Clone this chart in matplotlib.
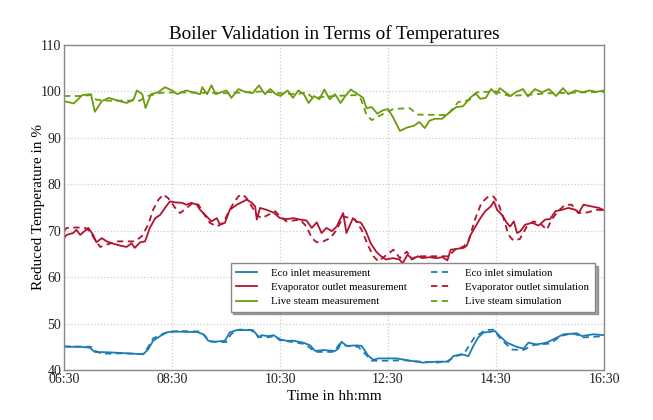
import matplotlib
matplotlib.use("Agg")
import matplotlib.pyplot as plt

plt.rcParams['font.family'] = ['Liberation Serif', 'DejaVu Serif']

# ---- data (time in hours of day) ----
eco_meas_t = [6.5, 6.80, 6.98, 7.07, 7.35, 7.66, 7.97, 8.06, 8.15, 8.28, 8.40, 8.52, 8.77, 8.96, 9.08, 9.17,
              9.30, 9.48, 9.57, 9.70, 9.95, 10.04, 10.10, 10.16, 10.28, 10.38, 10.50, 10.62, 10.75, 10.93,
              11.06, 11.15, 11.30, 11.52, 11.58, 11.64, 11.73, 11.92, 12.01, 12.14, 12.23, 12.32, 12.66,
              12.91, 13.15, 13.40, 13.62, 13.71, 13.86, 13.99, 14.08, 14.17, 14.27, 14.39, 14.48, 14.57,
              14.70, 14.88, 15.01, 15.10, 15.25, 15.44, 15.56, 15.75, 16.00, 16.09, 16.30, 16.5]
eco_meas_v = [45.0, 45.0, 44.8, 43.9, 43.8, 43.6, 43.4, 44.5, 46.3, 47.3, 48.1, 48.3, 48.2, 48.2, 47.7, 46.3,
              46.1, 46.3, 48.1, 48.6, 48.6, 48.1, 47.0, 47.5, 47.3, 47.5, 46.6, 46.3, 46.3, 45.9,
              45.3, 44.1, 44.3, 44.1, 44.6, 46.1, 45.2, 45.3, 45.2, 43.0, 42.2, 42.5, 42.5,
              42.0, 41.6, 41.8, 41.8, 43.0, 43.4, 43.0, 45.2, 47.0, 48.1, 48.2, 48.4, 47.3,
              45.9, 45.0, 44.6, 45.9, 45.5, 45.9, 46.6, 47.7, 47.9, 47.3, 47.7, 47.5]

eco_sim_t = [6.5, 7.0, 7.1, 7.2, 7.6, 7.95, 8.05, 8.15, 8.35, 8.6, 9.0, 9.1, 9.2, 9.5, 9.6, 9.75, 10.0,
             10.1, 10.25, 10.4, 10.5, 10.75, 10.95, 11.05, 11.15, 11.5, 11.6, 11.75, 11.95, 12.05, 12.2,
             12.5, 12.8, 13.0, 13.4, 13.6, 13.75, 13.9, 14.1, 14.3, 14.45, 14.6, 14.8, 15.0, 15.2, 15.5,
             15.7, 15.9, 16.0, 16.1, 16.5]
eco_sim_v = [45.1, 45.0, 44.0, 43.5, 43.6, 43.4, 44.8, 46.8, 47.9, 48.4, 48.3, 47.5, 46.1, 46.0, 47.8, 48.7, 48.6,
             47.2, 47.0, 47.3, 46.4, 46.0, 45.6, 44.8, 43.9, 43.9, 45.6, 45.2, 45.0, 43.8, 42.0,
             42.0, 42.1, 41.9, 41.6, 41.9, 43.0, 43.4, 47.0, 48.6, 48.7, 46.5, 44.4, 44.3, 45.4, 45.7,
             47.3, 47.9, 47.6, 47.0, 47.3]

evap_meas_t = [6.5, 6.55, 6.67, 6.73, 6.80, 6.95, 7.04, 7.10, 7.20, 7.29, 7.41, 7.54, 7.66, 7.75, 7.81, 7.91,
               8.00, 8.09, 8.19, 8.28, 8.37, 8.46, 8.56, 8.68, 8.77, 8.86, 8.96, 9.02, 9.14, 9.23, 9.33,
               9.39, 9.48, 9.57, 9.70, 9.82, 9.88, 9.98, 10.04, 10.07, 10.13, 10.25, 10.38, 10.50, 10.62,
               10.75, 10.87, 10.99, 11.09, 11.18, 11.27, 11.36, 11.46, 11.55, 11.61, 11.67, 11.73, 11.85,
               11.91, 12.00, 12.09, 12.18, 12.28, 12.37, 12.46, 12.59, 12.71, 12.77, 12.86, 12.96, 13.05,
               13.14, 13.27, 13.39, 13.51, 13.60, 13.66, 13.78, 13.90, 13.96, 14.03, 14.12, 14.21, 14.30,
               14.40, 14.46, 14.52, 14.61, 14.70, 14.76, 14.83, 14.89, 14.95, 15.04, 15.17, 15.29, 15.41,
               15.50, 15.60, 15.72, 15.84, 15.97, 16.03, 16.12, 16.28, 16.41, 16.5]
evap_meas_v = [68.4, 69.1, 69.5, 70.2, 69.1, 70.6, 69.1, 67.5, 68.4, 67.7, 67.2, 66.8, 66.5, 67.3, 66.3, 67.5,
               67.7, 70.6, 72.7, 73.4, 74.9, 76.3, 76.1, 76.0, 75.6, 76.0, 75.6, 74.5, 73.1, 72.0, 72.7,
               71.3, 71.7, 74.5, 75.6, 76.3, 76.7, 76.0, 75.2, 72.4, 74.9, 74.5, 73.9, 72.7, 72.5,
               72.7, 72.4, 72.2, 70.6, 71.8, 69.5, 70.6, 69.9, 70.9, 72.4, 73.8, 69.5, 72.7,
               72.0, 71.7, 69.9, 67.3, 65.5, 64.5, 63.8, 64.1, 63.8, 63.0, 64.8, 63.9, 64.5,
               64.1, 64.3, 64.1, 64.3, 63.6, 65.9, 66.1, 66.3, 66.8, 69.1, 70.9, 72.7, 74.2,
               75.2, 76.3, 74.5, 73.4, 71.7, 70.9, 72.0, 69.5, 69.9, 71.3, 71.7, 71.1, 72.4,
               72.5, 74.2, 74.5, 74.9, 74.5, 73.8, 75.6, 75.2, 74.9, 74.4]

evap_sim_t = [6.5, 6.55, 6.73, 6.89, 6.98, 7.07, 7.17, 7.29, 7.48, 7.66, 7.81, 7.94, 8.06, 8.15, 8.25, 8.34,
              8.43, 8.56, 8.65, 8.77, 8.89, 8.99, 9.08, 9.20, 9.33, 9.45, 9.54, 9.64, 9.73, 9.81, 9.88,
              9.98, 10.07, 10.16, 10.28, 10.41, 10.50, 10.62, 10.75, 10.87, 10.99, 11.09, 11.18, 11.30,
              11.43, 11.55, 11.67, 11.89, 12.01, 12.14, 12.23, 12.32, 12.44, 12.60, 12.72, 12.85, 12.94,
              13.03, 13.28, 13.62, 13.74, 13.90, 13.99, 14.11, 14.23, 14.36, 14.45, 14.54, 14.64, 14.73,
              14.82, 14.94, 15.07, 15.19, 15.31, 15.44, 15.53, 15.65, 15.78, 15.90, 16.03, 16.18, 16.36, 16.5]
evap_sim_v = [69.9, 70.6, 70.7, 70.6, 69.9, 68.1, 66.5, 67.0, 67.7, 67.7, 67.7, 68.8, 71.3, 74.5, 76.7, 77.8,
              77.0, 74.9, 73.8, 74.9, 76.0, 75.6, 73.8, 71.7, 70.9, 71.7, 73.8, 76.0, 77.4, 77.8, 77.0,
              75.2, 73.4, 72.7, 73.4, 74.2, 73.1, 72.0, 72.2, 72.4, 70.9, 68.4, 67.5, 67.7,
              68.4, 70.2, 73.1, 72.4, 70.2, 66.6, 64.5, 63.4, 64.5, 65.9, 64.1, 65.5, 63.8,
              64.5, 64.5, 64.5, 65.9, 66.6, 67.7, 72.4, 76.0, 77.4, 77.4, 76.0, 72.7, 69.1,
              67.9, 68.2, 70.9, 72.0, 71.7, 70.2, 72.4, 74.2, 75.6, 75.6, 73.8, 73.9, 74.5, 74.4]

steam_meas_t = [6.5, 6.68, 6.84, 7.0, 7.07, 7.2, 7.33, 7.53, 7.66, 7.79, 7.85, 7.95, 8.01, 8.11, 8.24, 8.37,
                8.5, 8.6, 8.76, 8.89, 9.02, 9.06, 9.15, 9.23, 9.31, 9.41, 9.51, 9.60, 9.73, 9.86, 9.99,
                10.11, 10.22, 10.32, 10.42, 10.51, 10.64, 10.74, 10.84, 10.94, 11.03, 11.13, 11.23, 11.32,
                11.42, 11.52, 11.62, 11.71, 11.81, 11.94, 12.04, 12.10, 12.20, 12.30, 12.40, 12.5, 12.59,
                12.72, 12.85, 12.98, 13.08, 13.18, 13.27, 13.37, 13.5, 13.63, 13.76, 13.89, 14.02, 14.12,
                14.21, 14.31, 14.41, 14.51, 14.57, 14.67, 14.77, 14.86, 15.0, 15.09, 15.22, 15.35, 15.48,
                15.61, 15.74, 15.84, 15.97, 16.1, 16.23, 16.36, 16.5]
steam_meas_v = [97.9, 97.4, 99.2, 99.4, 95.6, 97.9, 98.6, 97.9, 97.5, 98.3, 100.2, 99.4, 96.4, 99.4, 99.8, 100.9,
                100.2, 99.4, 100.2, 99.8, 99.4, 100.9, 99.4, 101.3, 99.4, 99.8, 100.2, 98.6, 100.5, 99.9, 99.6,
                101.3, 99.4, 100.5, 99.4, 99.0, 100.2, 98.6, 100.2, 99.4, 97.5, 99.0, 98.3, 100.4,
                98.3, 99.4, 97.5, 99.0, 100.4, 99.4, 98.6, 96.4, 96.6, 95.2, 95.9, 96.2, 94.5,
                91.5, 92.2, 92.6, 93.4, 92.1, 93.7, 94.1, 94.1, 95.4, 96.6, 96.8, 98.6, 99.6,
                98.4, 98.6, 100.5, 99.4, 100.7, 99.8, 99.0, 99.8, 100.5, 98.9, 100.5, 99.8, 100.5,
                99.0, 100.7, 99.4, 100.2, 99.8, 100.2, 99.9, 100.2]

steam_sim_t = [6.5, 6.8, 7.0, 7.1, 7.3, 7.9, 8.05, 8.3, 8.6, 9.5, 10.2, 10.5, 10.8, 11.0, 11.1, 11.5, 11.9,
               12.0, 12.1, 12.2, 12.35, 12.6, 12.9, 13.05, 13.6, 13.8, 14.0, 14.15, 14.5, 14.75, 15.0,
               15.5, 16.5]
steam_sim_v = [99.0, 99.0, 99.2, 98.2, 98.0, 98.0, 99.0, 99.7, 99.8, 99.6, 100.0, 99.6, 99.4, 99.8, 98.6, 99.0,
               99.2, 98.3, 95.0, 93.8, 94.8, 96.2, 96.4, 95.0, 94.9, 97.7, 98.1, 99.8, 100.0, 99.0, 99.2,
               99.6, 99.9]

tick_pos = [6.5, 8.5, 10.5, 12.5, 14.5, 16.5]
tick_labels = ["06:30", "08:30", "10:30", "12:30", "14:30", "16:30"]

c_blue = "#1b7db3"
c_red = "#b3122e"
c_green = "#6a9c0c"

fig = plt.figure(figsize=(6.53, 4.20), dpi=100)
ax = fig.add_axes([0.098, 0.119, 0.827, 0.774])

lw = 1.3
dash = (0, (3.5, 2.5))
ax.plot(eco_meas_t, eco_meas_v, color=c_blue, lw=lw, label="Eco inlet measurement")
ax.plot(evap_meas_t, evap_meas_v, color=c_red, lw=lw, label="Evaporator outlet measurement")
ax.plot(steam_meas_t, steam_meas_v, color=c_green, lw=lw, label="Live steam measurement")
ax.plot(eco_sim_t, eco_sim_v, color=c_blue, lw=lw, ls=dash, label="Eco inlet simulation")
ax.plot(evap_sim_t, evap_sim_v, color=c_red, lw=lw, ls=dash, label="Evaporator outlet simulation")
ax.plot(steam_sim_t, steam_sim_v, color=c_green, lw=lw, ls=dash, label="Live steam simulation")

ax.set_xlim(6.5, 16.5)
ax.set_ylim(40, 110)
ax.set_xticks(tick_pos)
ax.set_xticklabels(tick_labels)
ax.set_yticks(range(40, 111, 10))
ax.tick_params(axis='both', length=0, labelsize=10, pad=2, colors='#222222')
ax.grid(True, color='#cccccc', ls=':', lw=0.9)
for s in ax.spines.values():
    s.set_color('#888888')
    s.set_linewidth(1.0)

ax.set_title("Boiler Validation in Terms of Temperatures", fontsize=13.8, pad=4)
ax.set_xlabel("Time in hh:mm", fontsize=11, labelpad=3)
ax.set_ylabel("Reduced Temperature in %", fontsize=11, labelpad=-3)

leg = ax.legend(ncol=2, loc='lower right', bbox_to_anchor=(0.993, 0.163), fontsize=7.75,
                frameon=True, shadow=True, fancybox=False, handlelength=1.9, handletextpad=1.3,
                columnspacing=2.3, borderpad=0.5, labelspacing=0.42)
leg.get_frame().set_edgecolor('#888888')

fig.savefig("out.png", dpi=100)
